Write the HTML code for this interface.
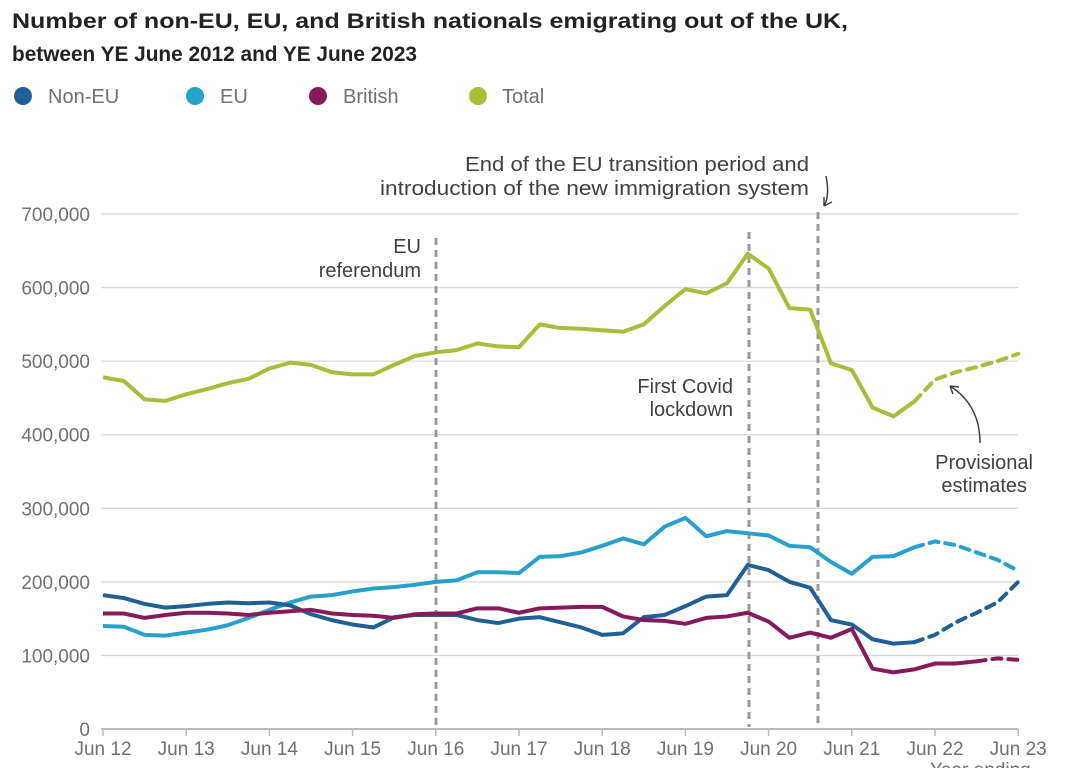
<!DOCTYPE html>
<html><head><meta charset="utf-8"><style>
html,body{margin:0;padding:0;background:#fff;width:1079px;height:768px;overflow:hidden}
text{font-family:"Liberation Sans",sans-serif}
</style></head><body>
<svg id="s" width="1079" height="768" xmlns="http://www.w3.org/2000/svg">
<text x="12" y="28" font-size="21" font-weight="bold" fill="#222" textLength="836" lengthAdjust="spacingAndGlyphs">Number of non-EU, EU, and British nationals emigrating out of the UK,</text>
<text x="12" y="61" font-size="21" font-weight="bold" fill="#222" textLength="405" lengthAdjust="spacingAndGlyphs">between YE June 2012 and YE June 2023</text>
<circle cx="23" cy="96" r="9" fill="#206095"/><text x="48" y="103" font-size="20" fill="#707071">Non-EU</text>
<circle cx="195" cy="96" r="9" fill="#27a0cc"/><text x="220" y="103" font-size="20" fill="#707071">EU</text>
<circle cx="318" cy="96" r="9" fill="#871a5b"/><text x="343" y="103" font-size="20" fill="#707071">British</text>
<circle cx="478" cy="96" r="9" fill="#a8bd3a"/><text x="502" y="103" font-size="20" fill="#707071">Total</text>
<g id="grid"></g>
<g stroke="#999" stroke-width="3" stroke-dasharray="7,5">
<line x1="436" y1="238" x2="436" y2="727"/>
<line x1="749" y1="232" x2="749" y2="727"/>
<line x1="818" y1="212" x2="818" y2="727"/>
</g>
<g font-size="20" fill="#414042" text-anchor="end">
<text x="421" y="253">EU</text><text x="421" y="277">referendum</text>
<text x="733" y="393">First Covid</text><text x="733" y="416">lockdown</text>
<text x="809" y="171" textLength="344" lengthAdjust="spacingAndGlyphs">End of the EU transition period and</text>
<text x="809" y="195" textLength="429" lengthAdjust="spacingAndGlyphs">introduction of the new immigration system</text>
<text x="1033" y="469">Provisional</text><text x="1027" y="492">estimates</text>
</g>
<path d="M826 176 Q830 196 824 206 M824 206 l0 -9 M824 206 l8 -4" stroke="#414042" stroke-width="1.5" fill="none"/>
<path d="M980 443 Q980 405 950 386 M950 386 l9 1 M950 386 l3 8" stroke="#414042" stroke-width="1.5" fill="none"/>
<g id="lines"></g>
</svg>
<script>
function X(i){return 103+i*20.8}function Y(v){return 729-v*0.7357}
var g=document.getElementById('grid'),h='';
for(var k=0;k<=7;k++){var y=Y(k*100);h+='<line x1="101" x2="1018" y1="'+y+'" y2="'+y+'" stroke="'+(k?'#d9d9d9':'#bbb')+'" stroke-width="'+(k?1.3:2)+'"/>';
h+='<text x="90" y="'+(y+7)+'" font-size="19" fill="#707071" text-anchor="end">'+(k?(k*100)+',000':'0')+'</text>';}
for(var t=0;t<=11;t++){var x=X(t*4);h+='<line x1="'+x+'" x2="'+x+'" y1="729" y2="736" stroke="#bbb" stroke-width="1.5"/><text x="'+x+'" y="755" font-size="19" fill="#707071" text-anchor="middle">Jun '+(12+t)+'</text>';}
h+='<text x="930" y="776" font-size="19" fill="#707071">Year ending</text>';
g.innerHTML=h;
var D={
'#a8bd3a':[[478,473,448,446,455,462,470,476,490,498,495,485,482,482,495,507,512,515,524,520,519,550,545,544,542,540,550,575,598,592,606,646,626,572,570,497,488,437,425,445],[445,475,485,492,500,510]],
'#27a0cc':[[140,139,128,127,131,135,141,151,162,172,180,182,187,191,193,196,200,202,213,213,212,234,235,240,249,259,251,275,287,262,269,266,263,249,247,227,211,234,235,247],[247,255,250,240,230,215]],
'#206095':[[182,178,170,165,167,170,172,171,172,168,156,148,142,138,152,155,155,155,148,144,150,152,145,138,128,130,152,155,167,180,182,223,216,200,192,148,142,122,116,118],[118,128,145,158,172,200]],
'#871a5b':[[157,157,151,155,158,158,157,155,158,160,162,157,155,154,151,156,157,157,164,164,158,164,165,166,166,153,148,147,143,151,153,158,146,124,131,124,136,82,77,81,89,89,92],[92,96,94]]};
var L='';
for(var c in D){var a=D[c][0],p='';for(var i=0;i<a.length;i++)p+=(i?'L':'M')+X(i)+' '+Y(a[i]);
L+='<path d="'+p+'" stroke="'+c+'" stroke-width="4" fill="none" stroke-linejoin="round"/>';
var b=D[c][1],st=a.length-1,q='';for(var j=0;j<b.length;j++)q+=(j?'L':'M')+X(st+j)+' '+Y(b[j]);
L+='<path d="'+q+'" stroke="'+c+'" stroke-width="4" fill="none" stroke-dasharray="9,7" stroke-linecap="round"/>';}
document.getElementById('lines').innerHTML=L;
</script>
</body></html>
